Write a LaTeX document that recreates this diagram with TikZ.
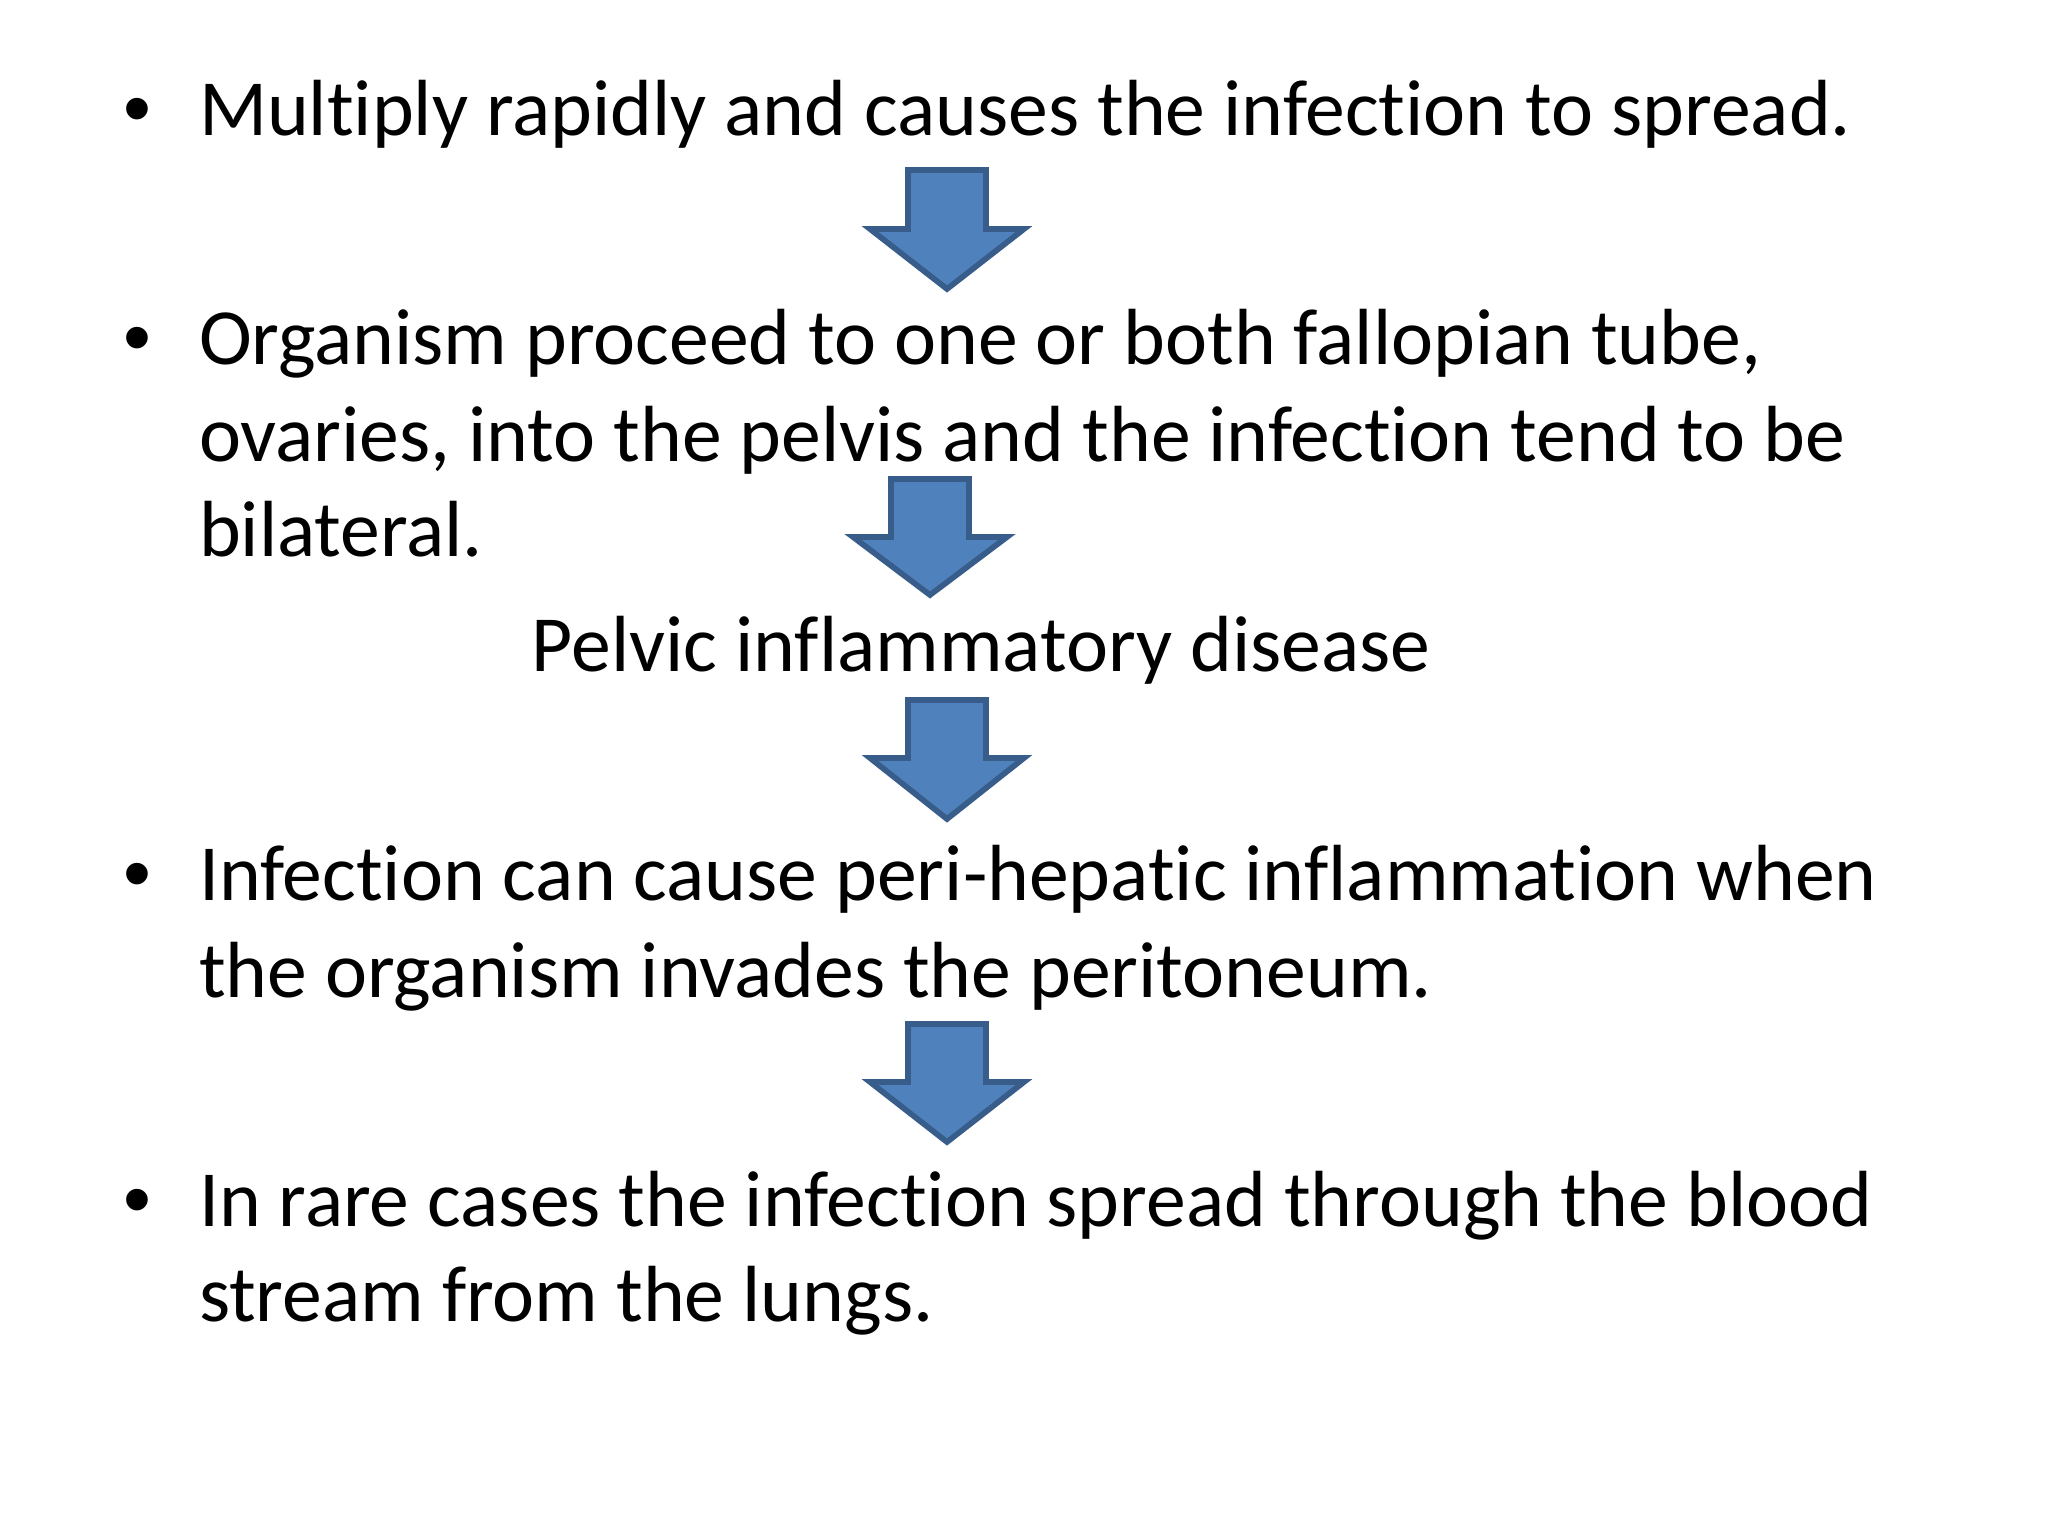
\documentclass[tikz,border=0pt]{standalone}
\usepackage{fontspec}
\setmainfont[Ligatures=NoCommon]{Carlito}
\newfontfamily\bulletfont{Liberation Sans}
\definecolor{arrowfill}{HTML}{4F81BD}
\definecolor{arrowline}{HTML}{385D8A}
\tikzset{
  txt/.style={inner sep=0pt, outer sep=0pt, anchor=base west, font=\fontsize{28}{33.6}\selectfont, text=black},
  ctxt/.style={inner sep=0pt, outer sep=0pt, anchor=base, font=\fontsize{28}{33.6}\selectfont, text=black},
  bul/.style={inner sep=0pt, outer sep=0pt, anchor=base, font=\bulletfont\fontsize{28}{33.6}\selectfont, text=black},
  blockarrow/.style={fill=arrowfill, draw=arrowline, line width=2pt, line join=miter},
}
% #1 centre x, #2 top, #3 shoulder, #4 tip
\newcommand{\myblockarrow}[4]{%
  \draw[blockarrow] (#1-39,#2+2) -- (#1+39,#2+2) -- (#1+39,#3) -- (#1+77,#3)
    -- (#1,#4-3) -- (#1-77,#3) -- (#1-39,#3) -- cycle;}
\begin{document}
\begin{tikzpicture}[x=0.3515625pt, y=-0.3515625pt]
\useasboundingbox[fill=white] (0,0) rectangle (2048,1536);

% bullet 1
\node[bul] (b1) at (137,136) {•};
\node[txt] (l1) at (199,136) {Multiply rapidly and causes the infection to spread.};

\myblockarrow{947}{168}{229}{292}

% bullet 2
\node[bul] (b2) at (137,365) {•};
\node[txt] (l2a) at (199,365) {Organism proceed to one or both fallopian tube,};
\node[txt] (l2b) at (199,462) {ovaries, into the pelvis and the infection tend to be};
\node[txt] (l2c) at (199,557) {bilateral.};

\myblockarrow{930}{477}{537}{598}

\node[ctxt] (pid) at (981,672) {Pelvic inflammatory disease};

\myblockarrow{947}{698}{758}{822}

% bullet 3
\node[bul] (b3) at (137,900) {•};
\node[txt] (l3a) at (199,900) {Infection can cause peri-hepatic inflammation when};
\node[txt] (l3b) at (199,997) {the organism invades the peritoneum.};

\myblockarrow{947}{1022}{1082}{1145}

% bullet 4
\node[bul] (b4) at (137,1226) {•};
\node[txt] (l4a) at (199,1226) {In rare cases the infection spread through the blood};
\node[txt] (l4b) at (199,1321) {stream from the lungs.};
\end{tikzpicture}
\end{document}
